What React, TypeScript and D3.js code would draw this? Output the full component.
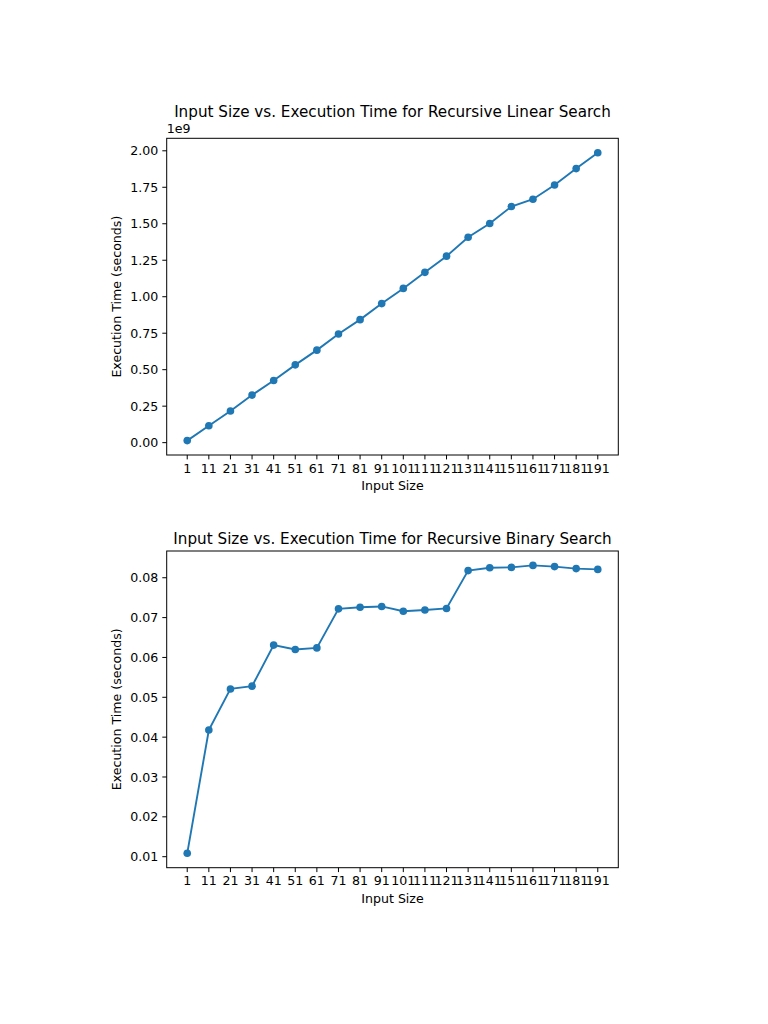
import * as d3 from "d3";

const inputSizes = ["1", "11", "21", "31", "41", "51", "61", "71", "81", "91", "101", "111", "121", "131", "141", "151", "161", "171", "181", "191"];

// execution times
const linearTimes = [
  0.014e9, 0.116e9, 0.217e9, 0.326e9, 0.426e9, 0.533e9, 0.634e9, 0.745e9, 0.843e9, 0.953e9,
  1.057e9, 1.167e9, 1.278e9, 1.408e9, 1.502e9, 1.618e9, 1.668e9, 1.766e9, 1.878e9, 1.987e9,
];
const binaryTimes = [
  0.01085, 0.0418, 0.0521, 0.0528, 0.0631, 0.062, 0.0624, 0.0722, 0.0726, 0.0728,
  0.0716, 0.0719, 0.0723, 0.0818, 0.0825, 0.0826, 0.0831, 0.0828, 0.0823, 0.0821,
];

const linearTicks = [0, 0.25e9, 0.5e9, 0.75e9, 1.0e9, 1.25e9, 1.5e9, 1.75e9, 2.0e9];
const binaryTicks = [0.01, 0.02, 0.03, 0.04, 0.05, 0.06, 0.07, 0.08];

const W = 768;
const H = 1024;
const LEFT = 166.7;
const RIGHT = 618.3;
const BLUE = "#1f77b4";
const FONT = "DejaVu Sans, sans-serif";

interface PanelProps {
  title: string;
  values: number[];
  ticks: number[];
  scale: number;
  top: number;
  bottom: number;
  titleY: number;
  offsetText?: string;
}

function Panel({ title, values, ticks, scale, top, bottom, titleY, offsetText }: PanelProps) {
  const x = d3.scalePoint<string>().domain(inputSizes).range([LEFT, RIGHT]).padding(0.95);
  const [lo, hi] = d3.extent(values) as [number, number];
  const pad = (hi - lo) * 0.05;
  const y = d3.scaleLinear().domain([lo - pad, hi + pad]).range([bottom, top]);
  const fmt = d3.format(".2f");

  const line = d3
    .line<number>()
    .x((_, i) => x(inputSizes[i])!)
    .y((d) => y(d));

  return (
    <g>
      <text x={(LEFT + RIGHT) / 2} y={titleY} textAnchor="middle" fontSize={15.2} fill="#000">
        {title}
      </text>
      {offsetText && (
        <text x={LEFT} y={top - 5} fontSize={12.6} fill="#000">
          {offsetText}
        </text>
      )}
      <path d={line(values) || ""} fill="none" stroke={BLUE} strokeWidth={1.9} />
      {values.map((v, i) => (
        <circle key={i} cx={x(inputSizes[i])} cy={y(v)} r={3.8} fill={BLUE} />
      ))}
      <rect x={LEFT} y={top} width={RIGHT - LEFT} height={bottom - top} fill="none" stroke="#000" strokeWidth={1} />
      {inputSizes.map((s) => (
        <g key={s} transform={`translate(${x(s)},${bottom})`}>
          <line y2={4.4} stroke="#000" strokeWidth={1} />
          <text y={17.5} textAnchor="middle" fontSize={12.6} fill="#000">
            {s}
          </text>
        </g>
      ))}
      {ticks.map((t) => (
        <g key={t} transform={`translate(${LEFT},${y(t)})`}>
          <line x2={-4.4} stroke="#000" strokeWidth={1} />
          <text x={-8.5} dy="0.36em" textAnchor="end" fontSize={12.6} fill="#000">
            {fmt(t / scale)}
          </text>
        </g>
      ))}
      <text x={(LEFT + RIGHT) / 2} y={bottom + 35} textAnchor="middle" fontSize={12.6} fill="#000">
        Input Size
      </text>
      <text
        transform={`translate(121,${(top + bottom) / 2}) rotate(-90)`}
        textAnchor="middle"
        fontSize={12.6}
        fill="#000"
      >
        Execution Time (seconds)
      </text>
    </g>
  );
}

export default function App() {
  return (
    <svg
      width={W}
      height={H}
      style={{ position: "absolute", left: 0, top: 0, background: "#fff", fontFamily: FONT }}
    >
      <rect width={W} height={H} fill="#fff" />
      <Panel
        title="Input Size vs. Execution Time for Recursive Linear Search"
        values={linearTimes}
        ticks={linearTicks}
        scale={1e9}
        top={138.3}
        bottom={455}
        titleY={117}
        offsetText="1e9"
      />
      <Panel
        title="Input Size vs. Execution Time for Recursive Binary Search"
        values={binaryTimes}
        ticks={binaryTicks}
        scale={1}
        top={551}
        bottom={867.7}
        titleY={543.5}
      />
    </svg>
  );
}
